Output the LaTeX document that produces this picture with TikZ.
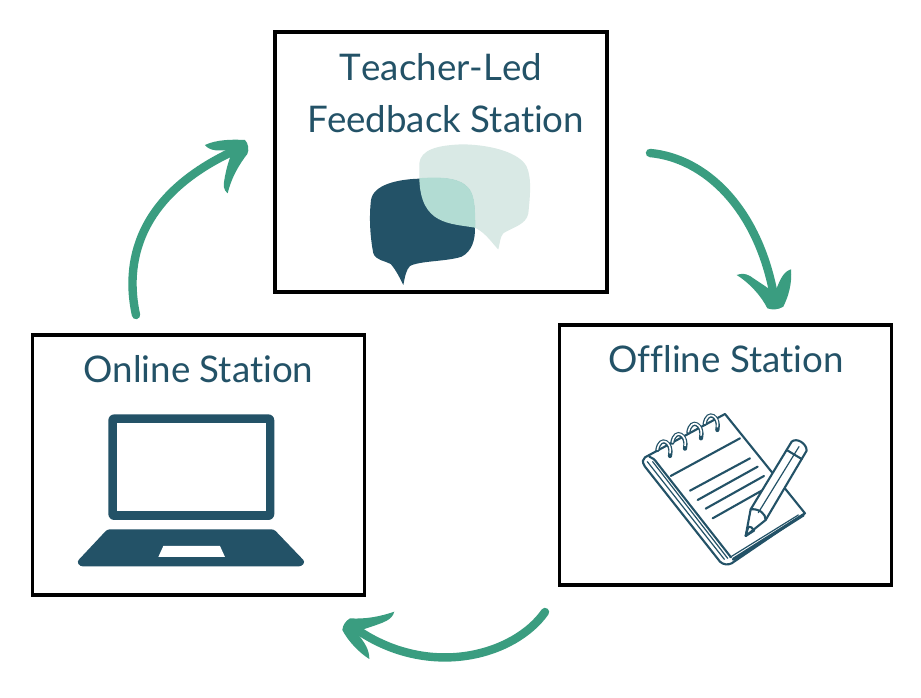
\documentclass[tikz,border=0pt]{standalone}
\usepackage{fontspec}
\setmainfont[Ligatures=NoCommon]{Lato}
\usetikzlibrary{arrows,calc}
\definecolor{inkblue}{HTML}{235267}
\definecolor{flowgreen}{HTML}{3A9D80}
\definecolor{paleleaf}{HTML}{D9E9E5}
\definecolor{midleaf}{HTML}{B2DCD3}
\def\darkbubble{(208,146) .. controls (140,148) and (70,165) .. (63,210)
	.. controls (57,260) and (60,320) .. (70,370) .. controls (78,392) and (105,392) .. (122,402)
	.. controls (138,420) and (150,445) .. (160,465) .. controls (165,440) and (168,420) .. (180,408)
	.. controls (210,392) and (290,395) .. (335,380) .. controls (365,365) and (376,330) .. (375,293)
	.. controls (373,250) and (376,200) .. (355,175) .. controls (325,140) and (260,143) .. (208,146) -- cycle}
\def\palebubble{(208,100) .. controls (212,60) and (260,45) .. (340,43)
	.. controls (430,45) and (510,70) .. (530,110) .. controls (546,145) and (540,200) .. (535,250)
	.. controls (530,285) and (480,295) .. (460,310) .. controls (450,320) and (450,340) .. (445,358)
	.. controls (430,345) and (410,310) .. (375,293) .. controls (300,280) and (212,285) .. (208,146) -- cycle}
\tikzset{
	every node/.style={
		font=\fontsize{36.7}{44}\selectfont,
		text=inkblue
	},
	station/.style={
		shape=rectangle,
		draw=black,
		line width=3.4pt,
		minimum width=332pt,
		minimum height=260pt,
		inner sep=0pt
	},
	title/.style={
		anchor=base
	},
	flow/.style={
		draw=flowgreen,
		line width=8.4pt,
		line cap=round
	},
	flowhead/.style={
		fill=flowgreen
	},
	padline/.style={
		draw=inkblue,
		line width=2.1pt,
		line cap=round,
		line join=round
	},
	icon/.style={
		shift={#1},
		scale=0.3333
	}
}
\begin{document}
\begin{tikzpicture}[x=1pt,y=-1pt]
	\useasboundingbox (0,0) rectangle (921,698);
	\fill[white] (0,0) rectangle (921,698);

	\node[station] (feedback) at (441,162) {};
	\node[station] (offline) at (725.5,455) {};
	\node[station] (online) at (198.5,465) {};

	\node[title] (feedback1) at (441,81) {\addfontfeature{Kerning=Off}Teacher-Led};
	\node[title] (feedback2) at (446,132) {Feedback Station};
	\node[title] (offline1) at (726,372) {Offline Station};
	\node[title] (online1) at (198.5,382) {Online Station};

	% arrows
	\coordinate (a1) at (650,153);
	\coordinate (b1) at (774,296);
	\coordinate (a2) at (545,612);
	\coordinate (b2) at (356,629);
	\coordinate (a3) at (136,315);
	\coordinate (b3) at (238,149);
	\draw[flow] (a1) .. controls (705,158) and (758,208) .. (b1);
	\draw[flow] (a2) .. controls (515,655) and (430,680) .. (b2);
	\draw[flow] (a3) .. controls (125,265) and (135,195) .. (b3);
	\begin{scope}[icon={(630,140)}]
		\fill[flowhead] (320,405) .. controls (335,400) and (345,400) .. (360,408) -- (415,445) -- (440,445)
			.. controls (450,420) and (460,395) .. (483,388) .. controls (487,430) and (475,470) .. (460,500)
			.. controls (445,510) and (425,510) .. (412,505) .. controls (395,470) and (360,430) .. (320,405) -- cycle;
	\end{scope}
	\begin{scope}[icon={(330,600)}]
		\fill[flowhead] (193,35) .. controls (185,60) and (170,65) .. (100,88) -- (88,108)
			.. controls (105,130) and (118,150) .. (118,177) .. controls (90,160) and (55,125) .. (37,90)
			.. controls (38,75) and (48,62) .. (60,55) .. controls (105,58) and (150,50) .. (193,35) -- cycle;
	\end{scope}
	\begin{scope}[icon={(120,130)}]
		\fill[flowhead] (255,45) .. controls (290,28) and (340,28) .. (375,30)
			.. controls (385,40) and (388,60) .. (382,72) .. controls (360,100) and (335,140) .. (323,190)
			.. controls (310,180) and (310,165) .. (313,150) .. controls (318,120) and (325,95) .. (335,70)
			-- (325,60) .. controls (300,62) and (270,65) .. (255,45) -- cycle;
	\end{scope}

	% speech bubbles
	\begin{scope}[icon={(350,130)}]
		\fill[paleleaf] \palebubble;
		\fill[inkblue] \darkbubble;
		\begin{scope}
			\clip \palebubble;
			\path[fill=midleaf,draw=midleaf,line width=1pt] \darkbubble;
		\end{scope}
	\end{scope}

	% laptop
	\begin{scope}[icon={(70,405)}]
		\fill[inkblue,rounded corners=6pt] (115,28) rectangle (613,345);
		\fill[white] (141,55) rectangle (587,318);
		\fill[inkblue,rounded corners=2.5pt] (112,373) -- (612,373) -- (705,470) -- (695,484) -- (30,484) -- (21,470) -- cycle;
		\fill[white] (280,423) -- (450,423) -- (465,456) -- (265,456) -- cycle;
	\end{scope}

	% notepad
	\begin{scope}[icon={(630,400)}]
		\draw[padline,fill=white] (45,172) -- (285,42) -- (525,340) -- (305,490)
			.. controls (295,495) and (280,495) .. (270,485) -- (45,200) .. controls (35,185) and (38,178) .. (45,172) -- cycle;
		\draw[padline,line width=3.2pt] (520,345) -- (310,478);
		\draw[padline,line width=1.2pt] (505,345) -- (300,472);
		\draw[padline] (58,170) .. controls (68,172) and (75,180) .. (82,190) -- (303,472);
		\draw[padline,line width=1.2pt] (52,185) -- (283,478);
		\draw[padline,line width=1.2pt] (68,185) -- (293,475);
		\draw[padline] (122,228) -- (330,115);
		\draw[padline] (180,272) -- (360,175);
		\draw[padline] (203,300) -- (383,200);
		\draw[padline] (227,326) -- (402,228);
		\draw[padline] (248,355) -- (395,272);
		% rings
		\foreach \rx/\ry in {120/168,165/146,213/115,262/90} {
			\draw[inkblue,line width=4.2pt,line cap=round] (\rx,\ry) .. controls ($(\rx,\ry)+(10,-40)$) and ($(\rx,\ry)+(-30,-65)$) .. ($(\rx,\ry)+(-38,-18)$);
			\draw[white,line width=1.6pt] ($(\rx,\ry)+(0,-8)$) .. controls ($(\rx,\ry)+(8,-40)$) and ($(\rx,\ry)+(-30,-65)$) .. ($(\rx,\ry)+(-38,-18)$);
			\fill[inkblue] (\rx,\ry) circle (3pt);
		}
		% pencil
		\draw[padline,fill=white] (347,408) -- (362,328) -- (485,125)
			.. controls (500,112) and (530,130) .. (530,152) -- (407,360) -- cycle;
		\draw[padline] (362,328) .. controls (385,325) and (408,340) .. (407,360);
		\draw[padline,line width=1.2pt] (385,338) -- (507,140);
		\draw[padline] (470,150) -- (515,177);
		\draw[padline] (347,408) -- (355,380) .. controls (362,378) and (368,384) .. (372,392) -- cycle;
	\end{scope}
\end{tikzpicture}
\end{document}
